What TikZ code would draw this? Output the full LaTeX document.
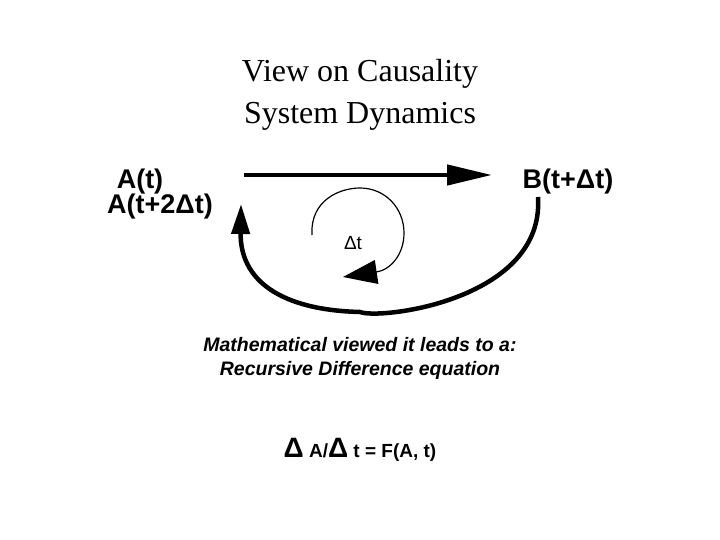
\documentclass[tikz,border=0pt]{standalone}
\usepackage{fontspec}
\setmainfont{Liberation Serif}
\newfontfamily\arial{Liberation Sans}
\usetikzlibrary{arrows.meta}
\begin{document}
\begin{tikzpicture}[x=1pt,y=-1pt,
  lbl/.style={font=\arial\bfseries\fontsize{27}{29}\selectfont,inner sep=0},
  thick arrow/.style={line width=4.5pt,-{Triangle[length=45pt,width=20pt]}},
  curve arrow/.style={line width=4.5pt,-{Triangle[length=30pt,width=18pt]}}]
\useasboundingbox (0,0) rectangle (720,540);
\node[font=\fontsize{32}{42}\selectfont,align=center] (title) at (360,95) {View on Causality\\System Dynamics};
\node[lbl] (at) at (140,182) {A(t)};
\node[lbl] (at2) at (160,207) {A(t+2Δt)};
\node[lbl] (bt) at (568,182) {B(t+Δt)};
\coordinate (h1) at (244,175);
\coordinate (h2) at (492,175);
\draw[thick arrow] (h1) -- (h2);
\coordinate (c1) at (538,197);
\coordinate (c2) at (241,204);
\draw[curve arrow] (c1) .. controls (545,300) and (380,320) .. (360,312) .. controls (280,310) and (240,280) .. (c2);
\node[font=\arial\fontsize{19}{20}\selectfont] (dt) at (353,243) {Δt};
\coordinate (s1) at (312,235);
\coordinate (s2) at (343,277);
\draw[line width=1.2pt,-{Triangle[length=34pt,width=24pt]}] (s1) .. controls (310,200) and (340,188) .. (360,188) .. controls (385,188) and (404,208) .. (404,233) .. controls (404,255) and (390,270) .. (s2);
\node[font=\arial\bfseries\itshape\fontsize{19.5}{24}\selectfont,align=center] (math) at (360,358) {Mathematical viewed it leads to a:\\Recursive Difference equation};
\node[font=\arial\bfseries\fontsize{19}{20}\selectfont] (eq) at (360,450) {{\fontsize{28}{28}\selectfont Δ} A/{\fontsize{28}{28}\selectfont Δ} t = F(A, t)};
\end{tikzpicture}
\end{document}
